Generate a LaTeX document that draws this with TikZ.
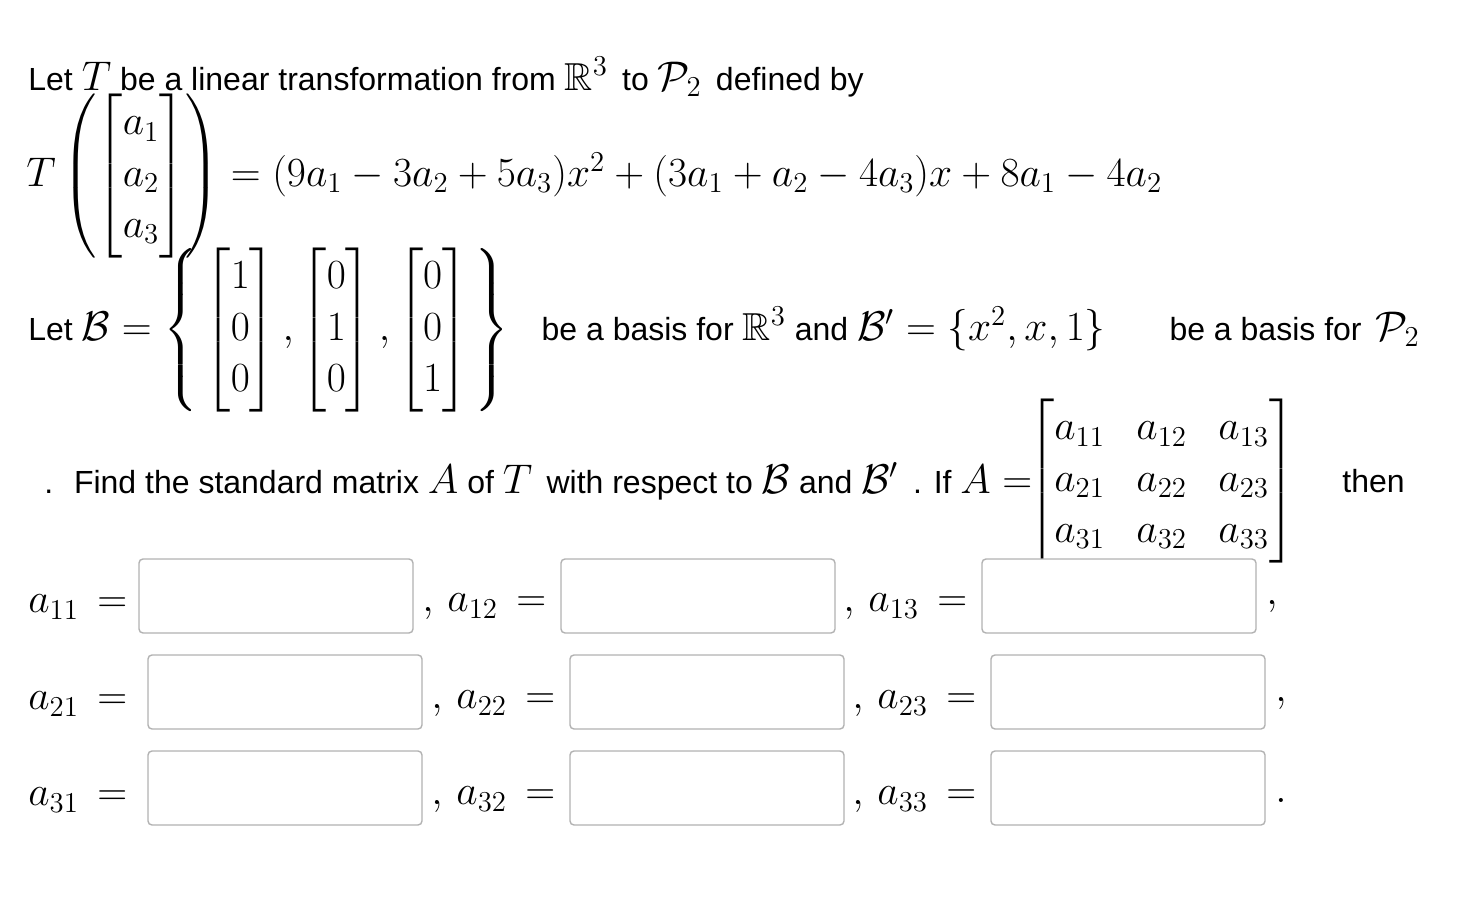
\documentclass[tikz,border=0pt]{standalone}
\usepackage{amsmath,amssymb}
\usepackage{fontspec}
\setmainfont{Liberation Sans}
\newcommand\mm[1]{{\fontsize{19.5}{23.4}\selectfont$#1$}}
\begin{document}
\begin{tikzpicture}[x=0.5pt,y=-0.5pt,
  txt/.style={anchor=west,inner sep=0pt,font=\fontsize{16}{19.5}\selectfont},
  ans/.style={draw=black!30,line width=0.7pt,rounded corners=2pt,fill=white}]
\useasboundingbox (0,0) rectangle (1458,904);
\renewcommand{\arraystretch}{1.1}
\node[txt] (l1) at (28,77) {Let \mm{T} be a linear transformation from \mm{\mathbb{R}^3}\, to \mm{\mathcal{P}_2}\, defined by};
\node[txt] (l2) at (26,176) {\mm{T\left(\begin{bmatrix}a_1\\a_2\\a_3\end{bmatrix}\right)=(9a_1-3a_2+5a_3)x^2+(3a_1+a_2-4a_3)x+8a_1-4a_2}};
\node[txt] (l3) at (28,330) {Let \mm{\mathcal{B}=\left\{\,\begin{bmatrix}1\\0\\0\end{bmatrix},\begin{bmatrix}0\\1\\0\end{bmatrix},\begin{bmatrix}0\\0\\1\end{bmatrix}\,\right\}}\quad be a basis for \mm{\mathbb{R}^3} and \mm{\mathcal{B}'=\{x^2,x,1\}}\qquad be a basis for\, \mm{\mathcal{P}_2}};
\node[txt] (l4) at (44,481) {.\; Find the standard matrix \mm{A} of \mm{T}\, with respect to \mm{\mathcal{B}} and \mm{\mathcal{B}'}\, . If \mm{A=}};
\node[txt] (mA) at (1028,481) {\mm{\begin{bmatrix}a_{11}&\; a_{12}&\; a_{13}\\a_{21}&\; a_{22}&\; a_{23}\\a_{31}&\; a_{32}&\; a_{33}\end{bmatrix}}};
\node[txt] (then) at (1342,481) {then};
% row 1
\node[txt] (r11) at (28,607) {\mm{a_{11}\,=}};
\draw[ans] (139,559) rectangle (413,633);
\node[txt] (r12) at (422,607) {\mm{,\,a_{12}\,=}};
\draw[ans] (561,559) rectangle (835,633);
\node[txt] (r13) at (843,607) {\mm{,\,a_{13}\,=}};
\draw[ans] (982,559) rectangle (1256,633);
\node[txt] (c1) at (1266,607) {\mm{,}};
% row 2
\node[txt] (r21) at (28,704) {\mm{a_{21}\,=}};
\draw[ans] (148,655) rectangle (422,729);
\node[txt] (r22) at (431,704) {\mm{,\,a_{22}\,=}};
\draw[ans] (570,655) rectangle (844,729);
\node[txt] (r23) at (852,704) {\mm{,\,a_{23}\,=}};
\draw[ans] (991,655) rectangle (1265,729);
\node[txt] (c2) at (1275,704) {\mm{,}};
% row 3
\node[txt] (r31) at (28,800) {\mm{a_{31}\,=}};
\draw[ans] (148,751) rectangle (422,825);
\node[txt] (r32) at (431,800) {\mm{,\,a_{32}\,=}};
\draw[ans] (570,751) rectangle (844,825);
\node[txt] (r33) at (852,800) {\mm{,\,a_{33}\,=}};
\draw[ans] (991,751) rectangle (1265,825);
\node[txt] (c3) at (1275,800) {\mm{.}};
\end{tikzpicture}
\end{document}
